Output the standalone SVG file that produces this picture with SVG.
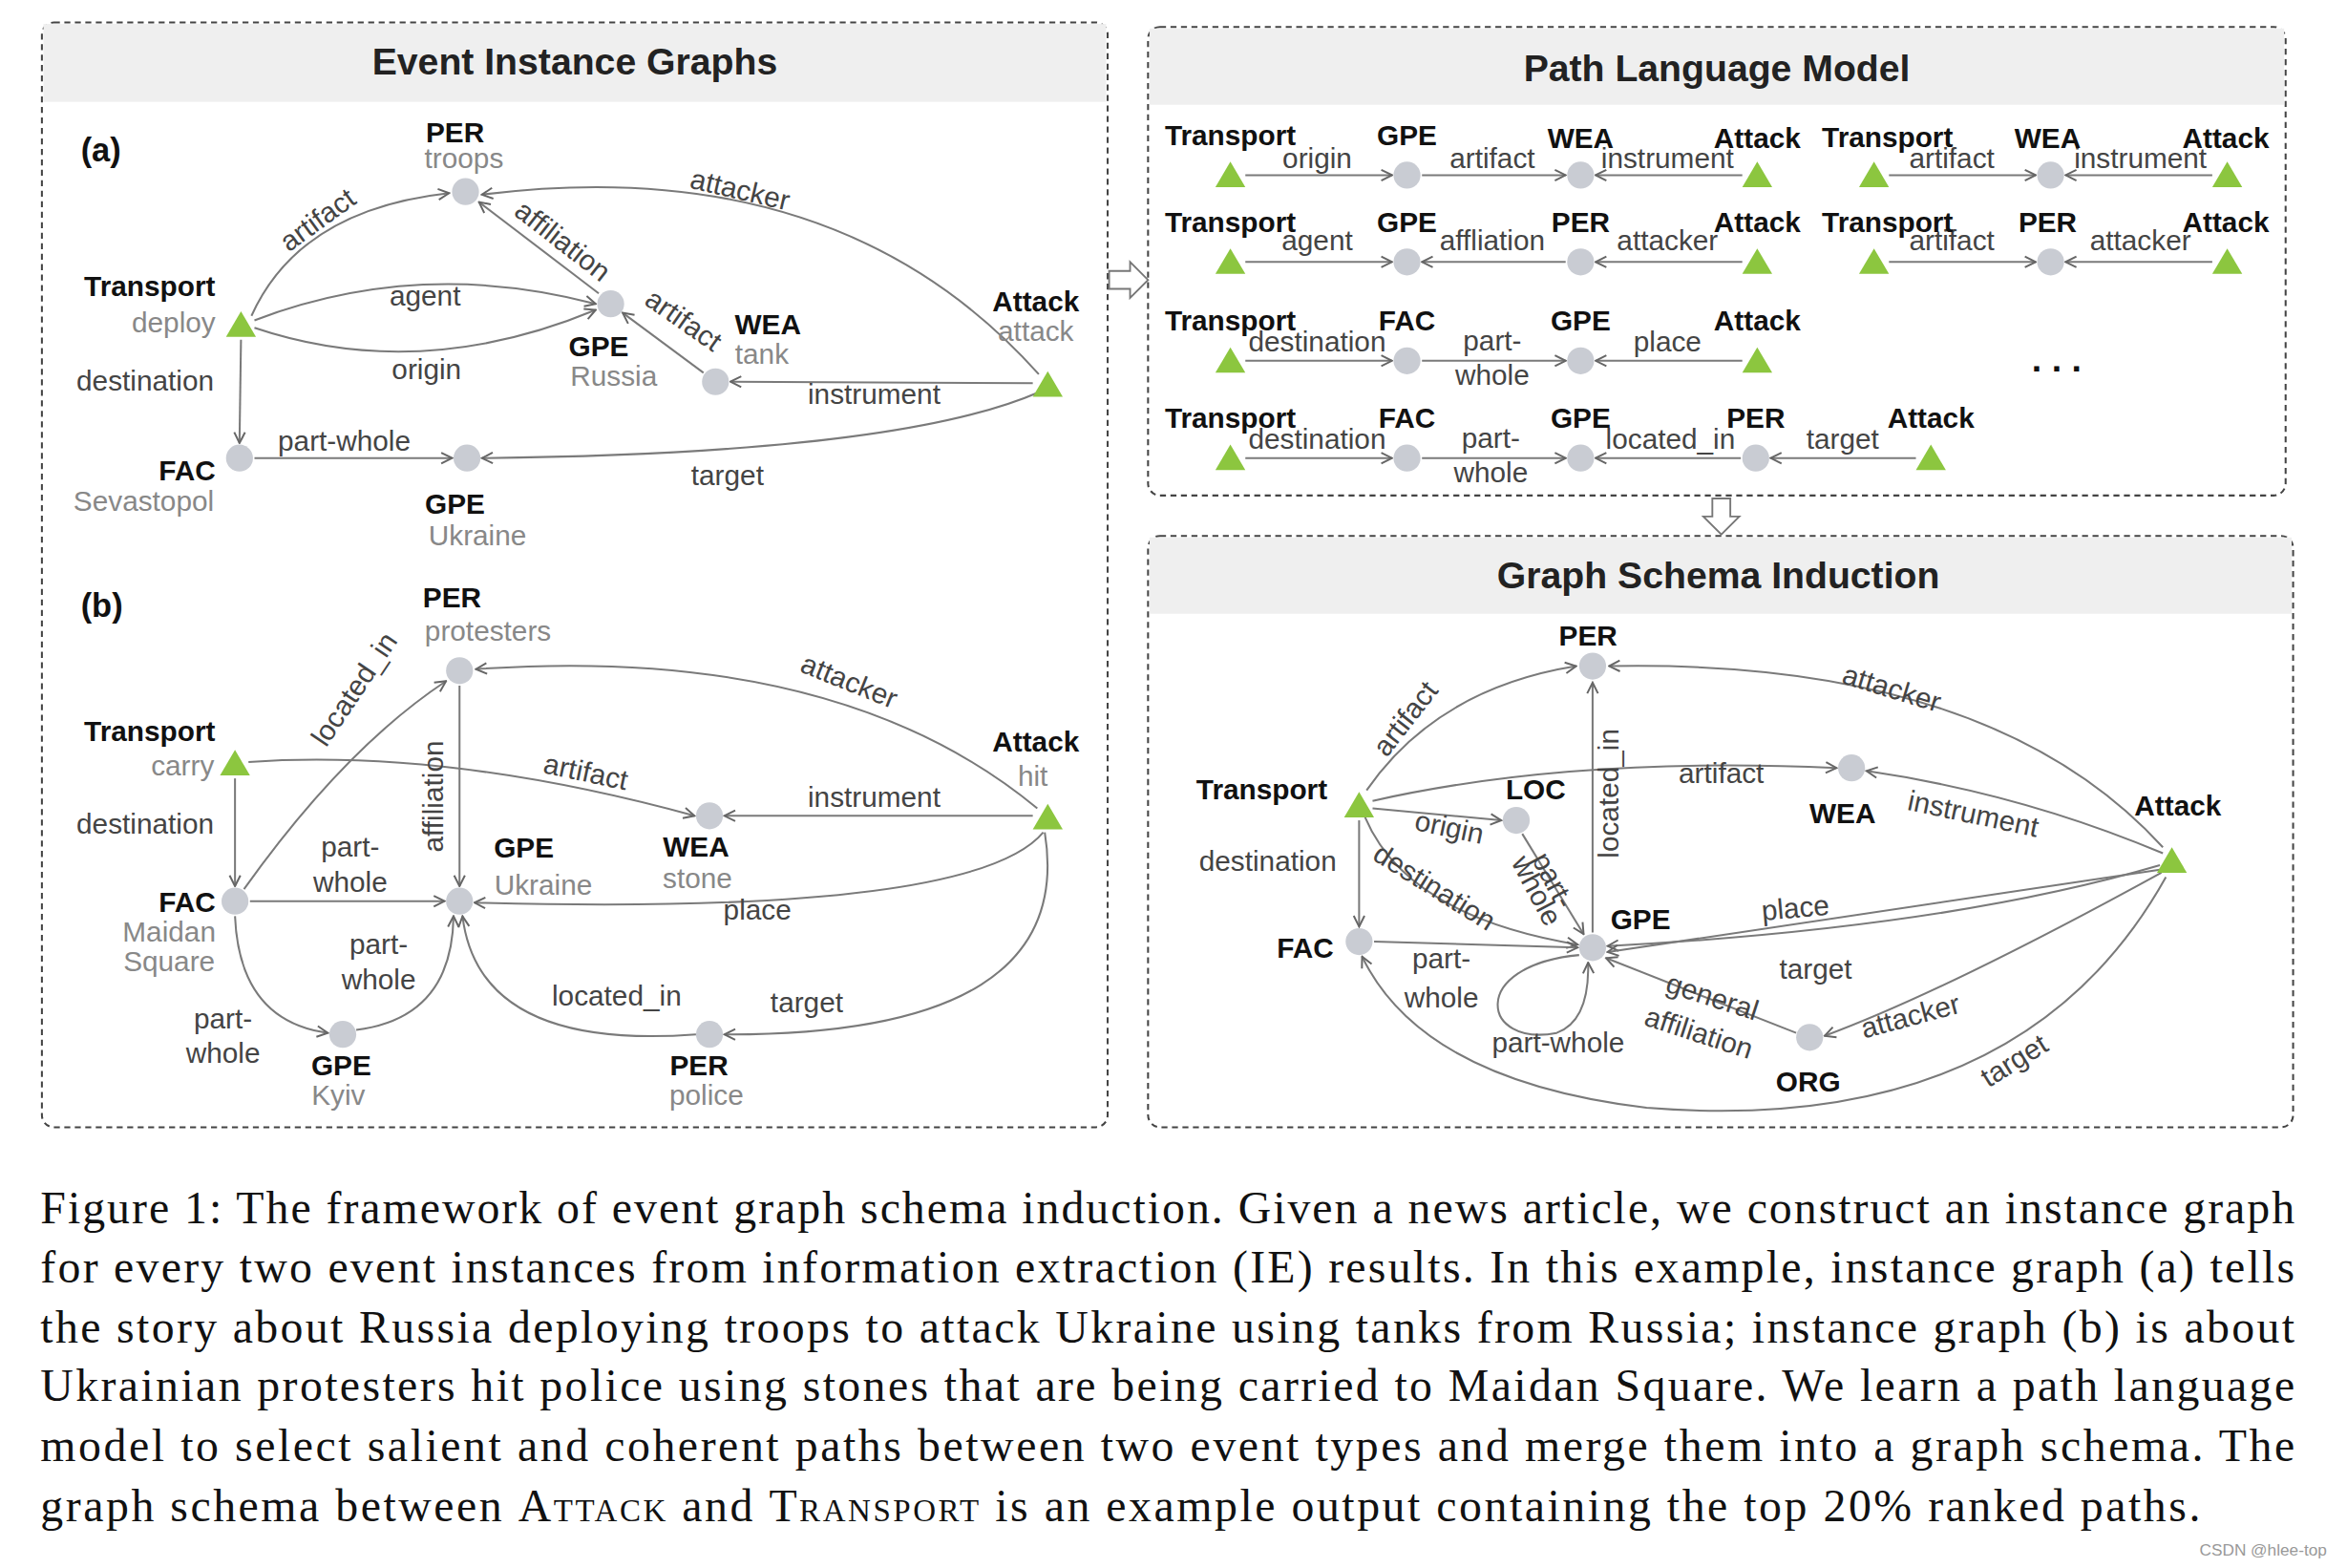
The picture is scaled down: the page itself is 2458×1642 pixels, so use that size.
<svg xmlns="http://www.w3.org/2000/svg" width="2458" height="1642" viewBox="0 0 2458 1642">
<style>
text{font-family:"Liberation Sans",Arial,sans-serif;font-size:19px;fill:#333}
.b{font-weight:bold;fill:#111}
.g{fill:#888}
.e{fill:#444}
.t{font-weight:bold;font-size:25px;fill:#222}
.c{font-family:"Liberation Serif","Times New Roman",serif;font-size:30.5px;fill:#111}
.n{fill:#c9ccd3}
.ed{fill:none;stroke:#7a7a7a;stroke-width:1.3;marker-end:url(#ah)}
.panel{fill:#fff;stroke:#444;stroke-width:1.3;stroke-dasharray:4 3}
.hd{fill:#efefef}
</style>
<defs>
<marker id="ah" viewBox="0 0 10 10" refX="9" refY="5" markerWidth="9" markerHeight="9" markerUnits="userSpaceOnUse" orient="auto"><path d="M1,1 L9,5 L1,9" fill="none" stroke="#666" stroke-width="1.4"/></marker>
<path id="tri" d="M0,-9 L10,8 L-10,8Z" fill="#8cc63f"/>
</defs>
<rect width="2458" height="1642" fill="#fff"/>
<g transform="scale(1.5676)">
<g id="panels">
<rect class="panel" x="28" y="15" width="712" height="738" rx="8"/>
<rect class="hd" x="29" y="16" width="710" height="52"/>
<text class="t" x="384" y="50" text-anchor="middle">Event Instance Graphs</text>
<rect class="panel" x="767" y="18" width="760" height="313" rx="8"/>
<rect class="hd" x="768" y="19" width="758" height="51"/>
<text class="t" x="1147" y="54" text-anchor="middle">Path Language Model</text>
<rect class="panel" x="767" y="358" width="765" height="395" rx="8"/>
<rect class="hd" x="768" y="359" width="763" height="51"/>
<text class="t" x="1148" y="393" text-anchor="middle">Graph Schema Induction</text>
<path d="M741,181 h14 v-6 l12,12 l-12,12 v-6 h-14z" fill="#fff" stroke="#777" stroke-width="1.2"/>
<path d="M1144,333 v12 h-6 l12,12 l12,-12 h-6 v-12z" fill="#fff" stroke="#777" stroke-width="1.2"/>
</g>

<g id="connectors">
<path class="ed" d="M168,211 Q200,140 300,129"/>
<path class="ed" d="M170,214 Q280,172 398,203"/>
<path class="ed" d="M170,219 Q280,256 398,207"/>
<path class="ed" d="M400,196 L320,135"/>
<path class="ed" d="M470,249 L416,209"/>
<path class="ed" d="M694,250 Q560,100 322,130"/>
<path class="ed" d="M690,256 L488,255"/>
<path class="ed" d="M694,262 Q600,303 322,306"/>
<path class="ed" d="M161,227 L160,296"/>
<path class="ed" d="M170,306 L302,306"/>
<path class="ed" d="M163,594 Q230,500 298,455"/>
<path class="ed" d="M307,458 L307,592"/>
<path class="ed" d="M693,540 Q560,430 318,447"/>
<path class="ed" d="M166,509 Q300,500 464,545"/>
<path class="ed" d="M690,545 L484,545"/>
<path class="ed" d="M157,520 L157,592"/>
<path class="ed" d="M167,602 L297,602"/>
<path class="ed" d="M697,556 Q650,612 317,603"/>
<path class="ed" d="M698,556 Q720,692 484,691"/>
<path class="ed" d="M465,691 Q320,702 309,612"/>
<path class="ed" d="M157,612 Q160,682 219,690"/>
<path class="ed" d="M238,688 Q302,680 303,612"/>
<path class="ed" d="M832,117 L930,117"/><path class="ed" d="M950,117 L1046,117"/><path class="ed" d="M1164,117 L1066,117"/>
<path class="ed" d="M1262,117 L1360,117"/><path class="ed" d="M1478,117 L1380,117"/>
<path class="ed" d="M832,175 L930,175"/><path class="ed" d="M1046,175 L950,175"/><path class="ed" d="M1164,175 L1066,175"/>
<path class="ed" d="M1262,175 L1360,175"/><path class="ed" d="M1478,175 L1380,175"/>
<path class="ed" d="M832,241 L930,241"/><path class="ed" d="M950,241 L1046,241"/><path class="ed" d="M1164,241 L1066,241"/>
<path class="ed" d="M832,306 L930,306"/><path class="ed" d="M950,306 L1046,306"/><path class="ed" d="M1163,306 L1066,306"/><path class="ed" d="M1280,306 L1183,306"/>
<path class="ed" d="M913,528 Q960,460 1053,445"/>
<path class="ed" d="M1064,623 L1064,456"/>
<path class="ed" d="M1445,566 Q1330,440 1075,445"/>
<path class="ed" d="M917,535 Q1050,505 1227,513"/>
<path class="ed" d="M1445,570 Q1350,530 1247,515"/>
<path class="ed" d="M917,540 L1003,548"/>
<path class="ed" d="M1017,557 L1058,624"/>
<path class="ed" d="M912,546 Q940,612 1054,631"/>
<path class="ed" d="M908,548 L908,619"/>
<path class="ed" d="M918,629 L1054,633"/>
<path class="ed" d="M1443,578 Q1300,620 1074,632"/>
<path class="ed" d="M1443,581 L1074,636"/>
<path class="ed" d="M1200,690 L1073,640"/>
<path class="ed" d="M1444,583 Q1300,662 1219,692"/>
<path class="ed" d="M1447,586 Q1350,760 1100,740 Q950,722 910,639"/>
<path class="ed" d="M1055,638 C980,645 990,700 1040,690 Q1062,682 1061,643"/>
</g>

<g id="edge-labels" class="e">
<text class="e" transform="translate(216,152) rotate(-36)" text-anchor="middle">artifact</text>
<text class="e" x="284" y="204" text-anchor="middle">agent</text>
<text class="e" x="285" y="253" text-anchor="middle">origin</text>
<text class="e" transform="translate(372,166) rotate(38)" text-anchor="middle">affiliation</text>
<text class="e" transform="translate(453,219) rotate(35)" text-anchor="middle">artifact</text>
<text class="e" transform="translate(493,133) rotate(13)" text-anchor="middle">attacker</text>
<text class="e" x="584" y="270" text-anchor="middle">instrument</text>
<text class="e" x="486" y="324" text-anchor="middle">target</text>
<text class="e" x="97" y="261" text-anchor="middle">destination</text>
<text class="e" x="230" y="301" text-anchor="middle">part-whole</text>
<text class="e" transform="translate(242,464) rotate(-56)" text-anchor="middle">located_in</text>
<text class="e" transform="translate(296,532) rotate(-90)" text-anchor="middle">affiliation</text>
<text class="e" transform="translate(565,461) rotate(22)" text-anchor="middle">attacker</text>
<text class="e" transform="translate(390,522) rotate(12)" text-anchor="middle">artifact</text>
<text class="e" x="584" y="539" text-anchor="middle">instrument</text>
<text class="e" x="97" y="557" text-anchor="middle">destination</text>
<text class="e" x="234" y="572" text-anchor="middle">part-</text>
<text class="e" x="234" y="596" text-anchor="middle">whole</text>
<text class="e" x="506" y="614" text-anchor="middle">place</text>
<text class="e" x="539" y="676" text-anchor="middle">target</text>
<text class="e" x="412" y="672" text-anchor="middle">located_in</text>
<text class="e" x="149" y="687" text-anchor="middle">part-</text>
<text class="e" x="149" y="710" text-anchor="middle">whole</text>
<text class="e" x="253" y="637" text-anchor="middle">part-</text>
<text class="e" x="253" y="661" text-anchor="middle">whole</text>
<text class="e" x="880" y="112" text-anchor="middle">origin</text>
<text class="e" x="997" y="112" text-anchor="middle">artifact</text>
<text class="e" x="1114" y="112" text-anchor="middle">instrument</text>
<text class="e" x="1304" y="112" text-anchor="middle">artifact</text>
<text class="e" x="1430" y="112" text-anchor="middle">instrument</text>
<text class="e" x="880" y="167" text-anchor="middle">agent</text>
<text class="e" x="997" y="167" text-anchor="middle">affliation</text>
<text class="e" x="1114" y="167" text-anchor="middle">attacker</text>
<text class="e" x="1304" y="167" text-anchor="middle">artifact</text>
<text class="e" x="1430" y="167" text-anchor="middle">attacker</text>
<text class="e" x="880" y="235" text-anchor="middle">destination</text>
<text class="e" x="997" y="234" text-anchor="middle">part-</text>
<text class="e" x="997" y="257" text-anchor="middle">whole</text>
<text class="e" x="1114" y="235" text-anchor="middle">place</text>
<text class="e" x="880" y="300" text-anchor="middle">destination</text>
<text class="e" x="996" y="299" text-anchor="middle">part-</text>
<text class="e" x="996" y="322" text-anchor="middle">whole</text>
<text class="e" x="1116" y="300" text-anchor="middle">located_in</text>
<text class="e" x="1231" y="300" text-anchor="middle">target</text>
<text class="e" transform="translate(944,484) rotate(-52)" text-anchor="middle">artifact</text>
<text class="e" transform="translate(1081,530) rotate(-90)" text-anchor="middle">located_in</text>
<text class="e" transform="translate(1262,466) rotate(17)" text-anchor="middle">attacker</text>
<text class="e" x="1150" y="523" text-anchor="middle">artifact</text>
<text class="e" transform="translate(1317,550) rotate(12)" text-anchor="middle">instrument</text>
<text class="e" transform="translate(967,559) rotate(12)" text-anchor="middle">origin</text>
<text class="e" transform="translate(1032,591) rotate(62)" text-anchor="middle">part-</text>
<text class="e" transform="translate(1021,598) rotate(62)" text-anchor="middle">whole</text>
<text class="e" transform="translate(955,598) rotate(32)" text-anchor="middle">destination</text>
<text class="e" x="847" y="582" text-anchor="middle">destination</text>
<text class="e" x="963" y="647" text-anchor="middle">part-</text>
<text class="e" x="963" y="673" text-anchor="middle">whole</text>
<text class="e" transform="translate(1200,613) rotate(-5)" text-anchor="middle">place</text>
<text class="e" x="1213" y="654" text-anchor="middle">target</text>
<text class="e" transform="translate(1142,672) rotate(18)" text-anchor="middle">general</text>
<text class="e" transform="translate(1133,696) rotate(18)" text-anchor="middle">affiliation</text>
<text class="e" transform="translate(1278,685) rotate(-15)" text-anchor="middle">attacker</text>
<text class="e" transform="translate(1349,714) rotate(-32)" text-anchor="middle">target</text>
<text class="e" x="1041" y="703" text-anchor="middle">part-whole</text>
</g>

<text class="b" x="54" y="108" style="font-size:22px">(a)</text>
<g id="a-per"><circle class="n" cx="311" cy="128" r="9"/><text class="b" x="304" y="95" text-anchor="middle">PER</text><text class="g" x="310" y="112" text-anchor="middle">troops</text></g>
<g id="a-transport"><use href="#tri" x="161" y="217"/><text class="b" x="100" y="198" text-anchor="middle">Transport</text><text class="g" x="116" y="222" text-anchor="middle">deploy</text></g>
<g id="a-fac"><circle class="n" cx="160" cy="306" r="9"/><text class="b" x="125" y="321" text-anchor="middle">FAC</text><text class="g" x="96" y="341" text-anchor="middle">Sevastopol</text></g>
<g id="a-gpe-russia"><circle class="n" cx="408" cy="203" r="9"/><text class="b" x="400" y="238" text-anchor="middle">GPE</text><text class="g" x="410" y="258" text-anchor="middle">Russia</text></g>
<g id="a-wea"><circle class="n" cx="478" cy="255" r="9"/><text class="b" x="513" y="223" text-anchor="middle">WEA</text><text class="g" x="509" y="243" text-anchor="middle">tank</text></g>
<g id="a-attack"><use href="#tri" x="700" y="257"/><text class="b" x="692" y="208" text-anchor="middle">Attack</text><text class="g" x="692" y="228" text-anchor="middle">attack</text></g>
<g id="a-gpe-ukraine"><circle class="n" cx="312" cy="306" r="9"/><text class="b" x="304" y="343" text-anchor="middle">GPE</text><text class="g" x="319" y="364" text-anchor="middle">Ukraine</text></g>

<text class="b" x="54" y="412" style="font-size:22px">(b)</text>
<g id="b-per"><circle class="n" cx="307" cy="448" r="9"/><text class="b" x="302" y="406" text-anchor="middle">PER</text><text class="g" x="326" y="428" text-anchor="middle">protesters</text></g>
<g id="b-transport"><use href="#tri" x="157" y="510"/><text class="b" x="100" y="495" text-anchor="middle">Transport</text><text class="g" x="122" y="518" text-anchor="middle">carry</text></g>
<g id="b-fac"><circle class="n" cx="157" cy="602" r="9"/><text class="b" x="125" y="609" text-anchor="middle">FAC</text><text class="g" x="113" y="629" text-anchor="middle">Maidan</text><text class="g" x="113" y="649" text-anchor="middle">Square</text></g>
<g id="b-gpe-ukraine"><circle class="n" cx="307" cy="602" r="9"/><text class="b" x="350" y="573" text-anchor="middle">GPE</text><text class="g" x="363" y="598" text-anchor="middle">Ukraine</text></g>
<g id="b-wea"><circle class="n" cx="474" cy="545" r="9"/><text class="b" x="465" y="572" text-anchor="middle">WEA</text><text class="g" x="466" y="593" text-anchor="middle">stone</text></g>
<g id="b-attack"><use href="#tri" x="700" y="546"/><text class="b" x="692" y="502" text-anchor="middle">Attack</text><text class="g" x="690" y="525" text-anchor="middle">hit</text></g>
<g id="b-gpe-kyiv"><circle class="n" cx="229" cy="691" r="9"/><text class="b" x="228" y="718" text-anchor="middle">GPE</text><text class="g" x="226" y="738" text-anchor="middle">Kyiv</text></g>
<g id="b-per-police"><circle class="n" cx="474" cy="691" r="9"/><text class="b" x="467" y="718" text-anchor="middle">PER</text><text class="g" x="472" y="738" text-anchor="middle">police</text></g>

<g id="p1"><use href="#tri" x="822" y="117"/><circle class="n" cx="940" cy="117" r="9"/><circle class="n" cx="1056" cy="117" r="9"/><use href="#tri" x="1174" y="117"/>
<text class="b" x="822" y="97" text-anchor="middle">Transport</text><text class="b" x="940" y="97" text-anchor="middle">GPE</text><text class="b" x="1056" y="99" text-anchor="middle">WEA</text><text class="b" x="1174" y="99" text-anchor="middle">Attack</text></g>
<g id="p2"><use href="#tri" x="1252" y="117"/><circle class="n" cx="1370" cy="117" r="9"/><use href="#tri" x="1488" y="117"/>
<text class="b" x="1261" y="98" text-anchor="middle">Transport</text><text class="b" x="1368" y="99" text-anchor="middle">WEA</text><text class="b" x="1487" y="99" text-anchor="middle">Attack</text></g>
<g id="p3"><use href="#tri" x="822" y="175"/><circle class="n" cx="940" cy="175" r="9"/><circle class="n" cx="1056" cy="175" r="9"/><use href="#tri" x="1174" y="175"/>
<text class="b" x="822" y="155" text-anchor="middle">Transport</text><text class="b" x="940" y="155" text-anchor="middle">GPE</text><text class="b" x="1056" y="155" text-anchor="middle">PER</text><text class="b" x="1174" y="155" text-anchor="middle">Attack</text></g>
<g id="p4"><use href="#tri" x="1252" y="175"/><circle class="n" cx="1370" cy="175" r="9"/><use href="#tri" x="1488" y="175"/>
<text class="b" x="1261" y="155" text-anchor="middle">Transport</text><text class="b" x="1368" y="155" text-anchor="middle">PER</text><text class="b" x="1487" y="155" text-anchor="middle">Attack</text></g>
<g id="p5"><use href="#tri" x="822" y="241"/><circle class="n" cx="940" cy="241" r="9"/><circle class="n" cx="1056" cy="241" r="9"/><use href="#tri" x="1174" y="241"/>
<text class="b" x="822" y="221" text-anchor="middle">Transport</text><text class="b" x="940" y="221" text-anchor="middle">FAC</text><text class="b" x="1056" y="221" text-anchor="middle">GPE</text><text class="b" x="1174" y="221" text-anchor="middle">Attack</text></g>
<text class="b" x="1374" y="248" text-anchor="middle" style="font-size:24px">. . .</text>
<g id="p6"><use href="#tri" x="822" y="306"/><circle class="n" cx="940" cy="306" r="9"/><circle class="n" cx="1056" cy="306" r="9"/><circle class="n" cx="1173" cy="306" r="9"/><use href="#tri" x="1290" y="306"/>
<text class="b" x="822" y="286" text-anchor="middle">Transport</text><text class="b" x="940" y="286" text-anchor="middle">FAC</text><text class="b" x="1056" y="286" text-anchor="middle">GPE</text><text class="b" x="1173" y="286" text-anchor="middle">PER</text><text class="b" x="1290" y="286" text-anchor="middle">Attack</text></g>

<g id="s-per"><circle class="n" cx="1064" cy="445" r="9"/><text class="b" x="1061" y="431" text-anchor="middle">PER</text></g>
<g id="s-transport"><use href="#tri" x="908" y="538"/><text class="b" x="843" y="534" text-anchor="middle">Transport</text></g>
<g id="s-fac"><circle class="n" cx="908" cy="629" r="9"/><text class="b" x="872" y="640" text-anchor="middle">FAC</text></g>
<g id="s-loc"><circle class="n" cx="1013" cy="548" r="9"/><text class="b" x="1026" y="534" text-anchor="middle">LOC</text></g>
<g id="s-wea"><circle class="n" cx="1237" cy="513" r="9"/><text class="b" x="1231" y="550" text-anchor="middle">WEA</text></g>
<g id="s-gpe"><circle class="n" cx="1064" cy="633" r="9"/><text class="b" x="1096" y="621" text-anchor="middle">GPE</text></g>
<g id="s-attack"><use href="#tri" x="1451" y="575"/><text class="b" x="1455" y="545" text-anchor="middle">Attack</text></g>
<g id="s-org"><circle class="n" cx="1209" cy="693" r="9"/><text class="b" x="1208" y="729" text-anchor="middle">ORG</text></g>

<g id="caption">
<text class="c" x="27" y="817" textLength="1506" lengthAdjust="spacing">Figure 1: The framework of event graph schema induction. Given a news article, we construct an instance graph</text>
<text class="c" x="27" y="857" textLength="1506" lengthAdjust="spacing">for every two event instances from information extraction (IE) results. In this example, instance graph (a) tells</text>
<text class="c" x="27" y="897" textLength="1506" lengthAdjust="spacing">the story about Russia deploying troops to attack Ukraine using tanks from Russia; instance graph (b) is about</text>
<text class="c" x="27" y="936" textLength="1506" lengthAdjust="spacing">Ukrainian protesters hit police using stones that are being carried to Maidan Square. We learn a path language</text>
<text class="c" x="27" y="976" textLength="1506" lengthAdjust="spacing">model to select salient and coherent paths between two event types and merge them into a graph schema. The</text>
<text class="c" x="27" y="1016" textLength="1443" lengthAdjust="spacing">graph schema between <tspan font-variant="small-caps">Attack</tspan> and <tspan font-variant="small-caps">Transport</tspan> is an example output containing the top 20% ranked paths.</text>
<text x="1512" y="1039" text-anchor="middle" style="font-size:11px;fill:#999">CSDN @hlee-top</text>
</g>
</g>
</svg>
